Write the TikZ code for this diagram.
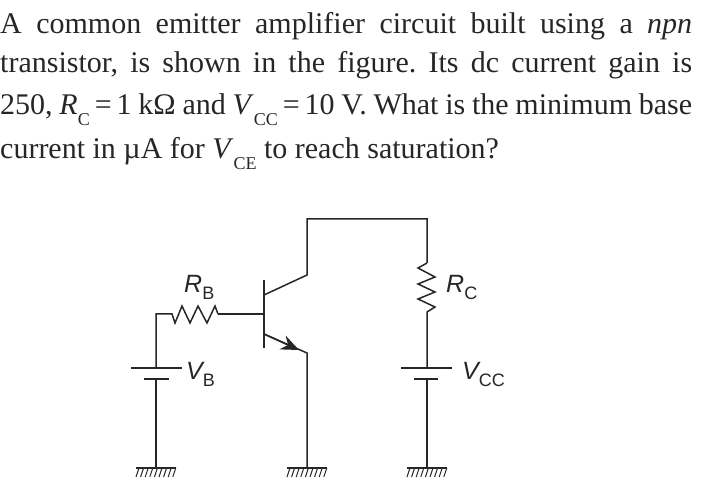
\documentclass[tikz,border=0pt]{standalone}
\usepackage{fontspec}
\setmainfont{Liberation Serif}
\newfontfamily\labelfont{Liberation Sans}
\usetikzlibrary{arrows.meta}
\frenchspacing
\newcommand{\lowsub}[1]{\raisebox{-11pt}{\fontsize{18}{18}\selectfont #1}}
\newcommand{\sanssub}[2]{{\fontsize{25}{25}\selectfont\labelfont\itshape #1}{\fontsize{18}{18}\selectfont\labelfont\raisebox{-6.5pt}{#2}}}
\tikzset{
    textline/.style={anchor=base west, inner sep=0pt, text=black!85, font=\fontsize{30}{30}\selectfont},
    cirlabel/.style={anchor=base west, inner sep=0pt, text=black!85},
    wire/.style={line width=1.5pt, black!85},
    plate/.style={line width=2pt, black!85},
    hatch/.style={line width=1pt, black!85}
}
\begin{document}
\begin{tikzpicture}[x=1pt, y=-1pt]
    \useasboundingbox (0,0) rectangle (710,494);
    % question text
    \node[textline] (lineA) at (0,34) {\hbox to 692pt{A common emitter amplifier circuit built using a \textit{npn}}};
    \node[textline] (lineB) at (0,73) {\hbox to 692pt{transistor, is shown in the figure. Its dc current gain is}};
    \node[textline] (lineC) at (0,115) {\hbox to 692pt{250, \textit{R}\lowsub{C}\,=\,1 kΩ and \textit{V}\lowsub{CC}\,=\,10 V. What is the minimum base}};
    \node[textline] (lineD) at (0,159) {current in µA for \textit{V}\lowsub{CE} to reach saturation?};
    % circuit points
    \coordinate (barT) at (264,280);
    \coordinate (barB) at (264,348);
    \coordinate (base) at (264,314);
    \coordinate (colS) at (264,295);
    \coordinate (colE) at (307,275);
    \coordinate (emiS) at (264,334);
    \coordinate (emiE) at (307,353);
    \coordinate (topL) at (307,219);
    \coordinate (topR) at (427,219);
    \coordinate (rcT) at (427,263);
    \coordinate (rcB) at (427,312);
    \coordinate (vccP) at (427,368);
    \coordinate (vccN) at (427,379);
    \coordinate (gndC) at (427,468);
    \coordinate (gndE) at (307,468);
    \coordinate (gndB) at (156,468);
    \coordinate (vbN) at (156,379);
    \coordinate (vbP) at (156,368);
    \coordinate (rbC) at (156,314);
    \coordinate (rbL) at (172,314);
    \coordinate (rbR) at (218,314);
    % transistor
    \draw[plate] (barT) -- (barB);
    \draw[wire] (base) -- (rbR);
    \draw[wire] (colS) -- (colE) -- (topL) -- (topR) -- (rcT);
    \draw[wire] (emiS) -- (emiE) -- (gndE);
    \draw[wire, -{Stealth[length=18pt, width=15pt, inset=6pt]}] (emiS) -- (299,350);
    % resistors
    \draw[wire] (rbR) -- (215,306) -- (207,323) -- (198,306) -- (190,323) -- (182,306) -- (175,323) -- (rbL) -- (rbC) -- (vbP);
    \draw[wire] (rcT) -- (418,268) -- (435,277) -- (418,284) -- (435,292) -- (418,299) -- (435,307) -- (rcB) -- (vccP);
    % batteries
    \draw[plate] (131,368) -- (182,368);
    \draw[plate] (144,379) -- (169,379);
    \draw[plate] (401,368) -- (452,368);
    \draw[plate] (414,379) -- (438,379);
    \draw[wire] (vbN) -- (gndB);
    \draw[wire] (vccN) -- (gndC);
    % grounds
    \foreach \gx in {136,287,407} {
        \draw[plate] (\gx,468) -- (\gx+40,468);
        \foreach \k in {0,...,8}
            \draw[hatch] (\gx+3+\k*4.6,468) -- (\gx+\k*4.6,477);
    }
    \node[cirlabel] (rbLabel) at (184,293) {\sanssub{R}{B}};
    \node[cirlabel] (vbLabel) at (186,380) {\sanssub{V}{B}};
    \node[cirlabel] (rcLabel) at (446,293) {\sanssub{R}{C}};
    \node[cirlabel] (vccLabel) at (462,380) {\sanssub{V}{CC}};
\end{tikzpicture}
\end{document}
